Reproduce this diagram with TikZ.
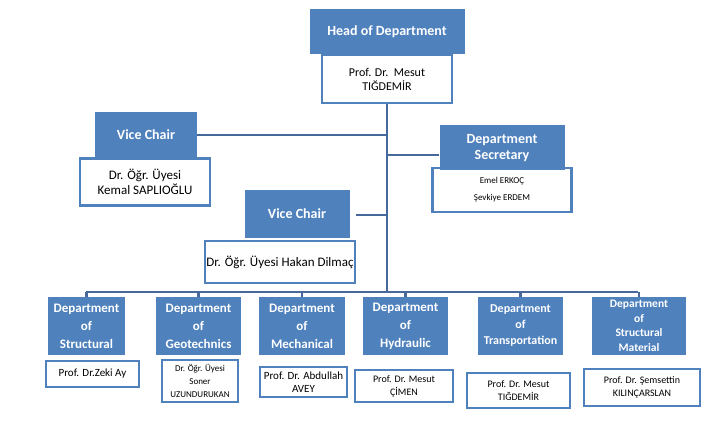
\documentclass[tikz,border=0pt]{standalone}
\usepackage{fontspec}
\setmainfont{Carlito}
\definecolor{bl}{HTML}{4F81BD}
\definecolor{ln}{HTML}{46689A}
\begin{document}
\begin{tikzpicture}[x=1pt,y=-1pt,
 hd/.style={fill=bl,text=white,font=\bfseries\fontsize{14}{16}\selectfont,align=center,inner sep=0pt},
 dp/.style={hd,minimum height=57pt,font=\bfseries\fontsize{13}{18}\selectfont},
 wb/.style={draw=bl,line width=2.5pt,fill=white,align=center,inner sep=0pt,font=\fontsize{11}{13}\selectfont},
 cn/.style={draw=ln,line width=2.5pt}]
\useasboundingbox (0,0) rectangle (724,433);
\coordinate (tb) at (387,292);
\coordinate (bl) at (86,292);
\coordinate (br) at (638,292);
% white boxes
\node[wb,minimum width=130pt,minimum height=48pt,font=\fontsize{12}{14}\selectfont] (hw) at (387,79) {\rule{0pt}{10pt}Prof. Dr.\ \ Mesut\\TIĞDEMİR};
\node[wb,minimum width=130pt,minimum height=47pt,font=\fontsize{13}{15}\selectfont] (v1w) at (145,182) {Dr. Öğr. Üyesi\\Kemal SAPLIOĞLU};
\node[wb,minimum width=139pt,minimum height=44pt,font=\fontsize{9}{17}\selectfont] (sw) at (502,190) {Emel ERKOÇ\\Şevkiye ERDEM};
\node[wb,minimum width=150pt,minimum height=42pt,font=\fontsize{13}{15}\selectfont] (v2w) at (280,262) {Dr. Öğr. Üyesi Hakan Dilmaç};
% connectors
\draw[cn] (hw.south) -- (tb);
\draw[cn] (bl) -- (br);
\coordinate (j1) at (387,135);
\coordinate (j2) at (387,155);
\coordinate (j3) at (387,215);
% blue heads
\node[hd,minimum width=155pt,minimum height=45pt] (h) at (387,32) {Head of Department};
\node[hd,minimum width=102pt,minimum height=46pt] (v1) at (146,135) {Vice Chair};
\node[hd,minimum width=125pt,minimum height=45pt] (s) at (502,148) {Department\\Secretary};
\node[hd,minimum width=105pt,minimum height=48pt] (v2) at (297,214) {Vice Chair};
\draw[cn] (j1) -- (v1.east |- j1);
\draw[cn] (j2) -- (s.west |- j2);
\draw[cn] (j3) -- (v2w.east |- j3);
% departments
\node[dp,minimum width=77pt] (d1) at (86.5,326) {Department\\of\\Structural};
\node[dp,minimum width=85pt] (d2) at (198.5,326) {Department\\of\\Geotechnics};
\node[dp,minimum width=86pt] (d3) at (302,326) {Department\\of\\Mechanical};
\node[dp,minimum width=85pt] (d4) at (405.5,326) {Department\\of\\Hydraulic};
\node[dp,minimum width=85pt,font=\bfseries\fontsize{12}{16}\selectfont] (d5) at (520.5,326) {Department\\of\\Transportation};
\node[dp,minimum width=94pt,font=\bfseries\fontsize{11.5}{14.5}\selectfont] (d6) at (639,326) {Department\\of\\Structural\\Material};
\foreach \n in {d1,d2,d3,d4,d5,d6}{\draw[cn] (\n.north |- bl) -- (\n.north);}
\node[wb,minimum width=93pt,minimum height=26pt] (p1) at (92.5,374) {Prof. Dr.Zeki Ay};
\node[wb,minimum width=76pt,minimum height=42pt,font=\fontsize{9}{13}\selectfont] (p2) at (200,381) {Dr. Öğr. Üyesi\\Soner\\UZUNDURUKAN};
\node[wb,minimum width=87pt,minimum height=30pt] (p3) at (303.5,382) {Prof. Dr. Abdullah\\AVEY};
\node[wb,minimum width=98pt,minimum height=32pt,font=\fontsize{10}{13}\selectfont] (p4) at (404,386) {Prof. Dr. Mesut\\ÇİMEN};
\node[wb,minimum width=103pt,minimum height=35pt,font=\fontsize{10}{13}\selectfont] (p5) at (518.5,390.5) {Prof. Dr. Mesut\\TIĞDEMİR};
\node[wb,minimum width=116pt,minimum height=37pt,font=\fontsize{10}{13}\selectfont] (p6) at (642,387.5) {Prof. Dr. Şemsettin\\KILINÇARSLAN};
\end{tikzpicture}
\end{document}
